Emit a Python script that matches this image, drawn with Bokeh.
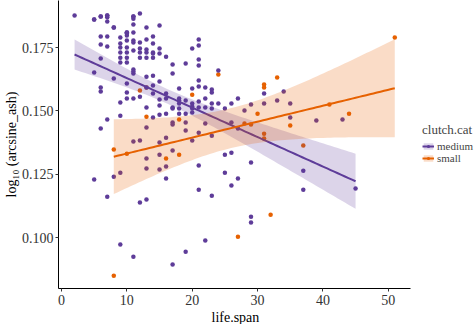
import numpy as np
from bokeh.plotting import figure
from bokeh.models import Range1d, FixedTicker, NumeralTickFormatter, Legend, LegendItem, Title
from bokeh.embed import file_html
from bokeh.resources import INLINE

# ---- data (a few overplotted points in the dense clusters) ----
medium_span = ([2] + [5]*4 + [6]*8 + [7]*8 + [8]*4 + [9]*10 + [10]*12 + [11]*14 + [12]*8 +
               [13]*12 + [14]*9 + [15]*10 + [16]*7 + [17]*8 + [18]*6 + [19]*6 + [20]*7 +
               [21]*11 + [22]*5 + [23]*6 + [24]*2 + [25]*3 + [26]*4 + [27]*3 + [28] + [29]*4 +
               [31]*2 + [33] + [34] + [35]*2 + [37]*2 + [39] + [43] + [45])
medium_ash = [
    0.1876,
    0.1861, 0.1861, 0.1651, 0.1229,
    0.1872, 0.1872, 0.1793, 0.1762, 0.1707, 0.1592, 0.1576, 0.1430,
    0.1876, 0.1876, 0.1869, 0.1853, 0.1793, 0.1754, 0.1466, 0.1161,
    0.1829, 0.1829, 0.1628, 0.1240,
    0.1790, 0.1766, 0.1750, 0.1730, 0.1710, 0.1691, 0.1533, 0.1481, 0.1256, 0.0972,
    0.1809, 0.1809, 0.1805, 0.1797, 0.1778, 0.1750, 0.1730, 0.1710, 0.1691, 0.1608, 0.1572, 0.1549,
    0.1872, 0.1872, 0.1864, 0.1841, 0.1809, 0.1778, 0.1770, 0.1738, 0.1663, 0.1655, 0.1647, 0.1549, 0.1379, 0.0924,
    0.1884, 0.1770, 0.1746, 0.1730, 0.1710, 0.1556, 0.1383, 0.1138,
    0.1829, 0.1782, 0.1742, 0.1730, 0.1710, 0.1635, 0.1592, 0.1513, 0.1434, 0.1312, 0.1272, 0.1150,
    0.1793, 0.1766, 0.1730, 0.1726, 0.1710, 0.1639, 0.1600, 0.1568, 0.1474,
    0.1837, 0.1746, 0.1726, 0.1616, 0.1545, 0.1521, 0.1485, 0.1375, 0.1327, 0.1268,
    0.1714, 0.1568, 0.1549, 0.1489, 0.1394, 0.1280, 0.1233,
    0.1683, 0.1647, 0.1513, 0.1509, 0.1454, 0.1446, 0.1343, 0.0893,
    0.1588, 0.1549, 0.1541, 0.1529, 0.1509, 0.1489,
    0.1687, 0.1541, 0.1489, 0.1454, 0.1422, 0.0944,
    0.1746, 0.1588, 0.1529, 0.1517, 0.1509, 0.1493, 0.1383,
    0.1782, 0.1758, 0.1703, 0.1679, 0.1620, 0.1596, 0.1537, 0.1513, 0.1414, 0.1284, 0.1189,
    0.1592, 0.1549, 0.1513, 0.1450, 0.0988,
    0.1584, 0.1572, 0.1529, 0.1509, 0.1402, 0.1165,
    0.1659, 0.1529,
    0.1509, 0.1327, 0.1256,
    0.1529, 0.1454, 0.1335, 0.1205,
    0.1549, 0.1430, 0.1233,
    0.1501,
    0.1525, 0.1296, 0.1082, 0.1059,
    0.1568, 0.1529,
    0.1541,
    0.1576,
    0.1529, 0.1474,
    0.1264, 0.1189,
    0.1462,
    0.1466,
    0.1193,
]
small_span = [8, 8, 10, 12, 13, 13, 16, 18, 18, 20, 24, 27, 28, 29, 30, 31, 31, 31, 31, 32, 33, 35, 37,
              41, 44, 51]
small_ash = [0.1347, 0.0849, 0.1331, 0.1580, 0.1477, 0.1592, 0.1312, 0.1466, 0.1327, 0.1564, 0.1643,
             0.1003, 0.1450, 0.1446, 0.1489, 0.1604, 0.1592, 0.1410, 0.1391, 0.1090, 0.1632,
             0.1442, 0.1363, 0.1525, 0.1489, 0.1790]

groups = ["medium", "small"]
colors = {"medium": "#5e3c99", "small": "#e66101"}
x_ticks = [0, 10, 20, 30, 40, 50]
y_ticks = [0.100, 0.125, 0.150, 0.175]


def lm_band(x, y, n=80):
    x = np.asarray(x, float)
    y = np.asarray(y, float)
    n_obs = len(x)
    xb = x.mean()
    sxx = ((x - xb) ** 2).sum()
    b = ((x - xb) * (y - y.mean())).sum() / sxx
    a = y.mean() - b * xb
    res = y - (a + b * x)
    s = np.sqrt((res ** 2).sum() / (n_obs - 2))
    xs = np.linspace(x.min(), x.max(), n)
    fit = a + b * xs
    se = s * np.sqrt(1.0 / n_obs + (xs - xb) ** 2 / sxx)
    df = n_obs - 2
    z = 1.959964
    t = z + (z ** 3 + z) / (4 * df) + (5 * z ** 5 + 16 * z ** 3 + 3 * z) / (96 * df ** 2)
    return xs, fit, fit - t * se, fit + t * se


SERIF = "Liberation Serif"
X_LO, X_HI = -0.46, 53.44

p = figure(width=474, height=324, output_backend="svg", toolbar_location=None,
           x_range=Range1d(X_LO, 63.2), y_range=Range1d(0.07987, 0.19356),
           min_border_left=57, min_border_right=0, min_border_top=0, min_border_bottom=34)
p.outline_line_color = None
p.xgrid.grid_line_color = None
p.ygrid.grid_line_color = None
p.background_fill_color = "white"

data = {"medium": (medium_span, medium_ash), "small": (small_span, small_ash)}

pts = {}
for g in ["small", "medium"]:
    xs, ys = data[g]
    pts[g] = p.scatter(xs, ys, size=4.5, color=colors[g], line_color=None)

rib = {}
ln = {}
for g in groups:
    xs, fit, lo, hi = lm_band(*data[g])
    rib[g] = p.varea(x=xs, y1=lo, y2=hi, fill_color=colors[g], fill_alpha=0.22)
    ln[g] = p.line(xs, fit, line_color=colors[g], line_width=2)

for ax in (p.xaxis[0], p.yaxis[0]):
    ax.axis_line_color = "black"
    ax.axis_line_width = 1
    ax.major_tick_line_color = "#333333"
    ax.major_tick_out = 3
    ax.major_tick_in = 0
    ax.minor_tick_line_color = None
    ax.major_label_text_font = SERIF
    ax.major_label_text_font_size = "14px"
    ax.major_label_text_color = "#333333"
    ax.axis_label_text_font = SERIF
    ax.axis_label_text_font_size = "14px"
    ax.axis_label_text_font_style = "normal"
    ax.axis_label_text_color = "black"

p.xaxis.ticker = FixedTicker(ticks=x_ticks)
p.xaxis.bounds = (X_LO, X_HI)
p.yaxis.ticker = FixedTicker(ticks=y_ticks)
p.yaxis.formatter = NumeralTickFormatter(format="0.000")
p.yaxis.axis_label = "log\u2081\u2080 (arcsine_ash)"
p.xaxis.major_label_standoff = 3
p.yaxis.major_label_standoff = 2
p.yaxis.axis_label_standoff = 0

# x-axis title centred under the axis line (which stops at x = 53.4)
xtitle = Title(text="life.span", align="left", offset=153, standoff=0,
               text_font=SERIF, text_font_size="14px", text_font_style="normal",
               text_color="black")
p.add_layout(xtitle, "below")

legend = Legend(items=[LegendItem(label=g, renderers=[rib[g], ln[g], pts[g]]) for g in groups],
                title="clutch.cat", location=(364, 124))
legend.title_text_font = SERIF
legend.title_text_font_size = "13px"
legend.title_text_font_style = "normal"
legend.title_standoff = 2
legend.label_text_font = SERIF
legend.label_text_font_size = "11px"
legend.label_text_line_height = 0.8
legend.glyph_width = 12
legend.glyph_height = 8
legend.label_height = 8
legend.label_standoff = 3
legend.spacing = 0
legend.padding = 0
legend.margin = 0
legend.border_line_color = None
legend.background_fill_alpha = 0
p.add_layout(legend, "center")

open("out.html", "w").write(file_html(p, INLINE))
